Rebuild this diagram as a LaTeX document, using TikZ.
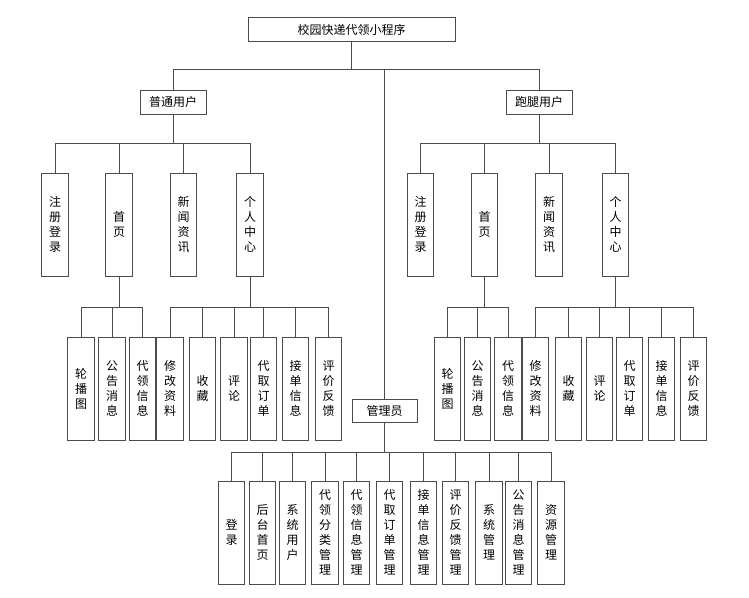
\documentclass[tikz,border=0pt]{standalone}
\usepackage{fontspec}
\setmainfont{Noto Sans CJK SC}
\usepackage{tikz}
\usetikzlibrary{calc}
\tikzset{
    box/.style={draw=black!70, line width=0.8pt, fill=white, inner sep=0pt,
        font=\fontsize{12}{15}\selectfont},
    wide/.style={box, minimum height=24pt},
    tall/.style={box, minimum width=26.5pt, minimum height=103pt, align=center},
    link/.style={draw=black!70, line width=0.7pt}
}

\begin{document}
\begin{tikzpicture}[x=1pt,y=-1pt]
        \useasboundingbox (0,0) rectangle (749,597);

        % top levels
        \draw (351.5,29.5) node[wide,minimum width=207pt](root){校园快递代领小程序};
        \draw (173,102) node[wide,minimum width=66pt](pu){普通用户};
        \draw (539,102) node[wide,minimum width=66pt](pt){跑腿用户};
        \draw (384.5,410.5) node[wide,minimum width=65pt,minimum height=23pt](gl){管理员};

        % ordinary user
        \draw ( 55,224.5) node[tall](pu1){注\\册\\登\\录};
        \draw (119,224.5) node[tall](pu2){首\\页};
        \draw (183.5,224.5) node[tall](pu3){新\\闻\\资\\讯};
        \draw (250,224.5) node[tall](pu4){个\\人\\中\\心};

        \draw ( 81,388.5) node[tall](pa1){轮\\播\\图};
        \draw (112,388.5) node[tall](pa2){公\\告\\消\\息};
        \draw (142.5,388.5) node[tall](pa3){代\\领\\信\\息};
        \draw (170,388.5) node[tall](pb1){修\\改\\资\\料};
        \draw (202.5,388.5) node[tall](pb2){收\\藏};
        \draw (234,388.5) node[tall](pb3){评\\论};
        \draw (263.5,388.5) node[tall](pb4){代\\取\\订\\单};
        \draw (295.5,388.5) node[tall](pb5){接\\单\\信\\息};
        \draw (328.5,388.5) node[tall](pb6){评\\价\\反\\馈};

        % runner
        \draw (420.5,224.5) node[tall](pt1){注\\册\\登\\录};
        \draw (484.5,224.5) node[tall](pt2){首\\页};
        \draw (549,224.5) node[tall](pt3){新\\闻\\资\\讯};
        \draw (615.5,224.5) node[tall](pt4){个\\人\\中\\心};

        \draw (447.5,388.5) node[tall](ta1){轮\\播\\图};
        \draw (477.5,388.5) node[tall](ta2){公\\告\\消\\息};
        \draw (508,388.5) node[tall](ta3){代\\领\\信\\息};
        \draw (535.5,388.5) node[tall](tb1){修\\改\\资\\料};
        \draw (568.5,388.5) node[tall](tb2){收\\藏};
        \draw (599.5,388.5) node[tall](tb3){评\\论};
        \draw (629.5,388.5) node[tall](tb4){代\\取\\订\\单};
        \draw (661.5,388.5) node[tall](tb5){接\\单\\信\\息};
        \draw (693.5,388.5) node[tall](tb6){评\\价\\反\\馈};

        % admin
        \draw (231.5,532.5) node[tall](g1){登\\录};
        \draw (262.5,532.5) node[tall](g2){后\\台\\首\\页};
        \draw (292.5,532.5) node[tall](g3){系\\统\\用\\户};
        \draw (325,532.5) node[tall](g4){代\\领\\分\\类\\管\\理};
        \draw (356.5,532.5) node[tall](g5){代\\领\\信\\息\\管\\理};
        \draw (389.5,532.5) node[tall](g6){代\\取\\订\\单\\管\\理};
        \draw (423.5,532.5) node[tall](g7){接\\单\\信\\息\\管\\理};
        \draw (455.5,532.5) node[tall](g8){评\\价\\反\\馈\\管\\理};
        \draw (489,532.5) node[tall](g9){系\\统\\管\\理};
        \draw (518.5,532.5) node[tall](g10){公\\告\\消\\息\\管\\理};
        \draw (551,532.5) node[tall](g11){资\\源\\管\\理};

        % connectors
        \foreach \c in {pu,pt,gl}
            \draw[link] (root.south) -- +(0,27) -| (\c.north);
        \foreach \c in {pu1,pu2,pu3,pu4}
            \draw[link] (pu.south) -- +(0,29) -| (\c.north);
        \foreach \c in {pt1,pt2,pt3,pt4}
            \draw[link] (pt.south) -- +(0,29) -| (\c.north);
        \foreach \c in {pa1,pa2,pa3}
            \draw[link] (pu2.south) -- +(0,31) -| (\c.north);
        \foreach \c in {pb1,pb2,pb3,pb4,pb5,pb6}
            \draw[link] (pu4.south) -- +(0,31) -| (\c.north);
        \foreach \c in {ta1,ta2,ta3}
            \draw[link] (pt2.south) -- +(0,31) -| (\c.north);
        \foreach \c in {tb1,tb2,tb3,tb4,tb5,tb6}
            \draw[link] (pt4.south) -- +(0,31) -| (\c.north);
        \foreach \c in {g1,g2,g3,g4,g5,g6,g7,g8,g9,g10,g11}
            \draw[link] (gl.south) -- +(0,30) -| (\c.north);
    \end{tikzpicture}
\end{document}
